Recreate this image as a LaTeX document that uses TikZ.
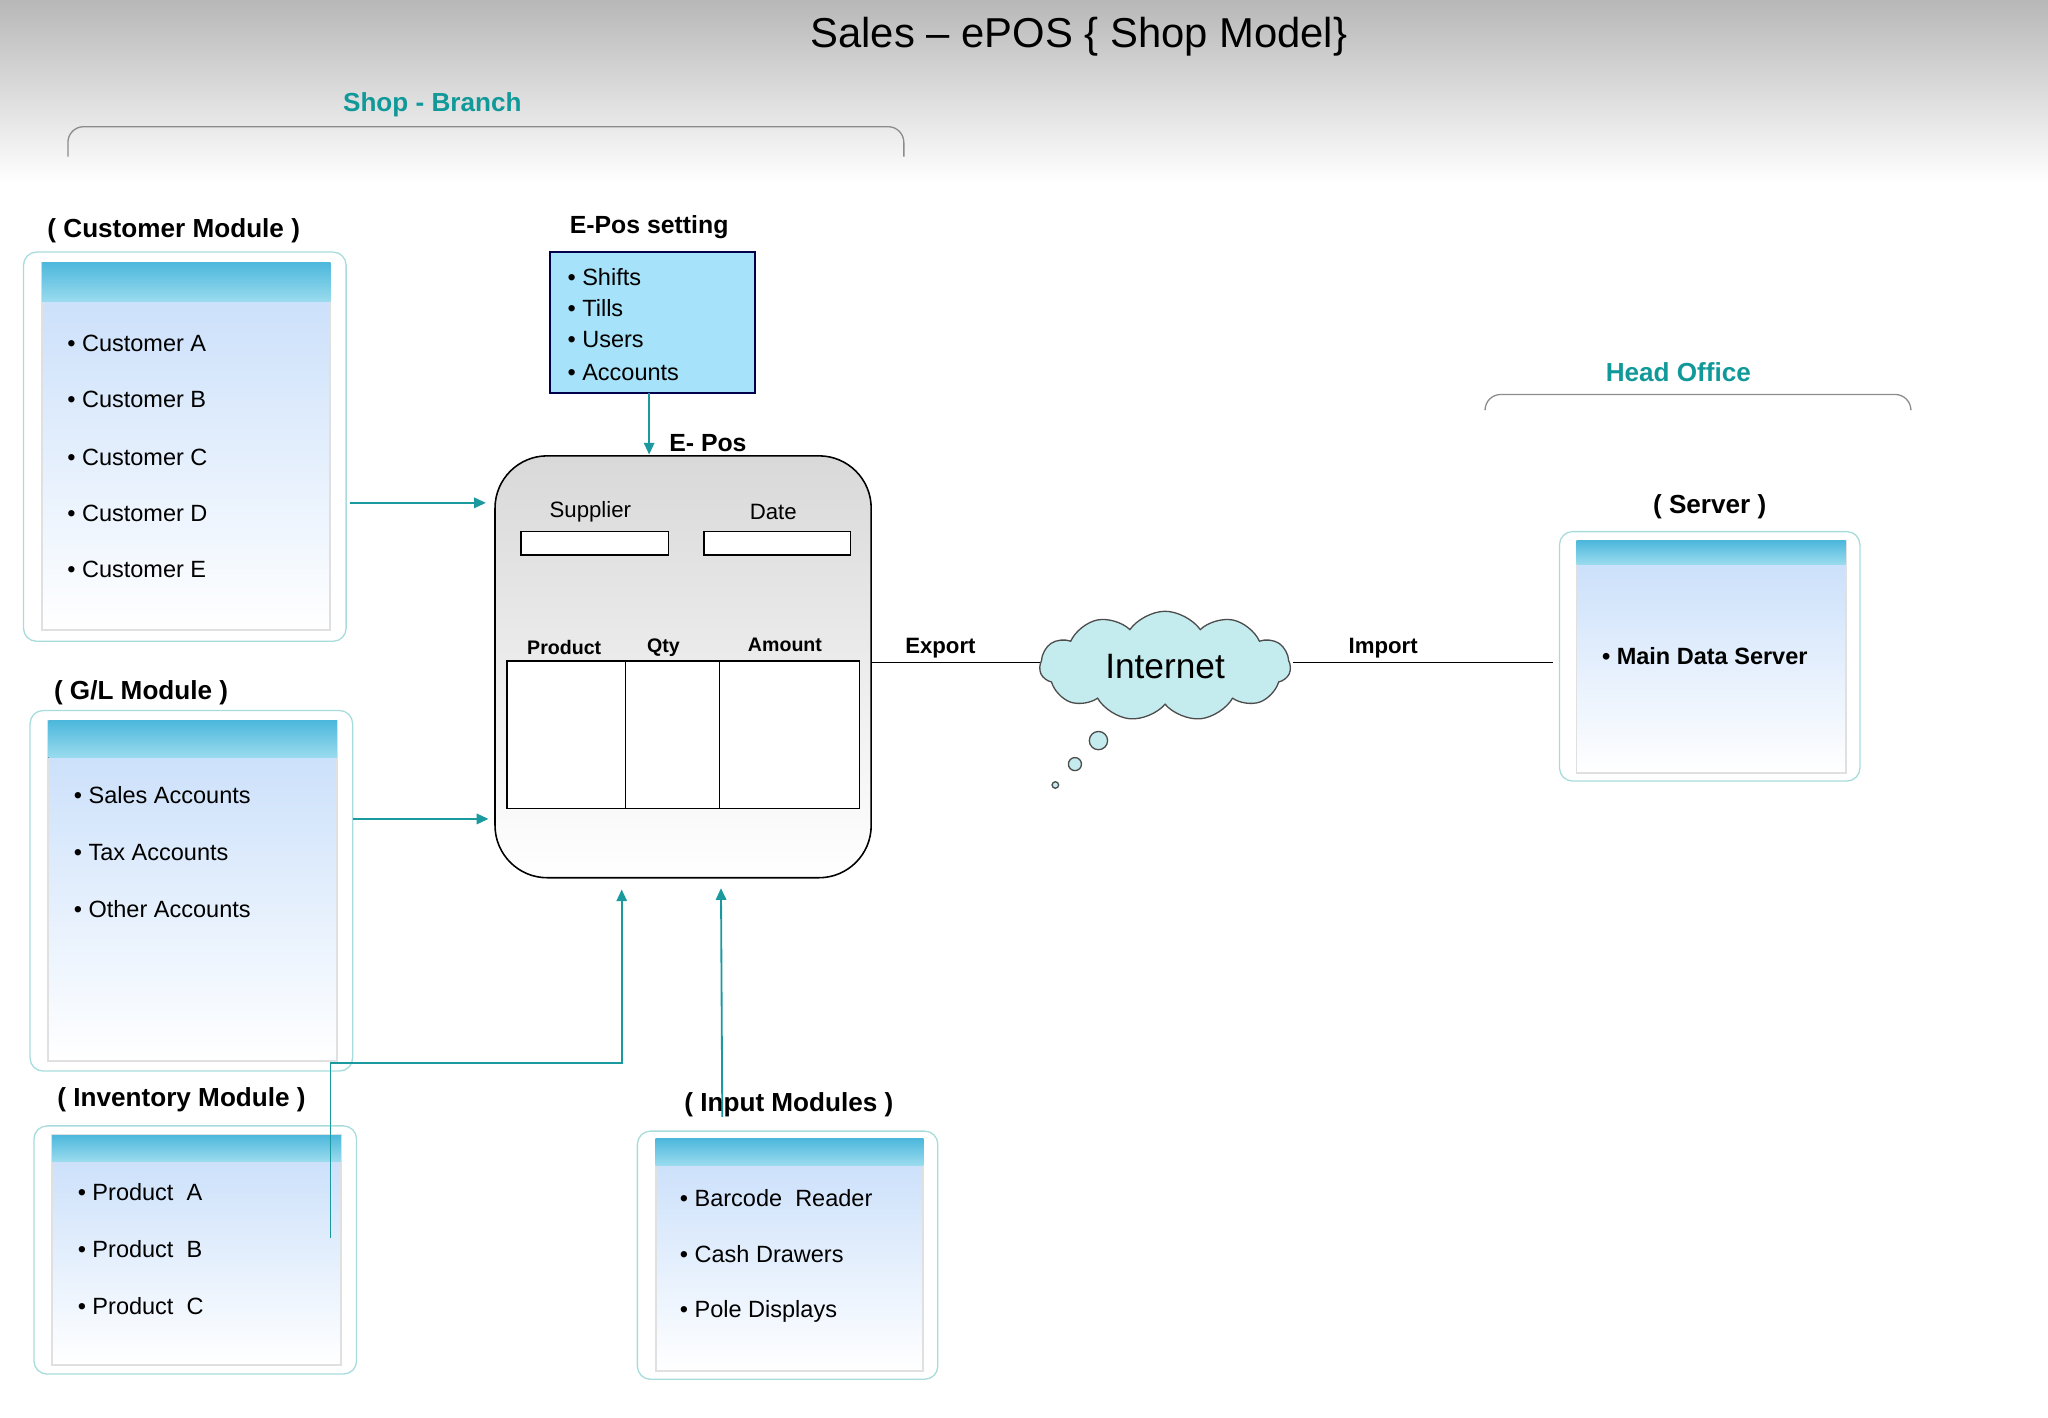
\documentclass[tikz,border=0pt]{standalone}
\usepackage{fontspec}
\setmainfont{Liberation Sans}
\usetikzlibrary{shapes.symbols,arrows.meta}
\definecolor{teal1}{HTML}{1A9A9E}
\definecolor{tealtxt}{HTML}{11999A}
\definecolor{barA}{HTML}{4DB8DC}
\definecolor{barB}{HTML}{9ADBEE}
\definecolor{bodyA}{HTML}{C6DDFA}
\definecolor{outl}{HTML}{A8DCDC}
\definecolor{cloudc}{HTML}{C4ECEF}
\newcommand\fs[1]{\fontsize{#1}{#1}\selectfont}
\tikzset{
 outer/.style={draw=outl,line width=1pt,rounded corners=10pt,fill=white},
 inner/.style={top color=bodyA,bottom color=white,draw=black!12,line width=1.5pt},
 bar/.style={top color=barA,bottom color=barB,draw=none},
 item/.style={anchor=west,font=\fs{18}},
 mtitle/.style={font=\bfseries\fs{20}},
 arr/.style={draw=teal1,line width=1.4pt,-{Triangle[length=9pt,width=8pt]}},
 brace/.style={draw=black!45,line width=1pt,rounded corners=12pt},
 lbl/.style={font=\bfseries\fs{17}}
}
\begin{document}
\begin{tikzpicture}[x=1pt,y=-1pt]
\useasboundingbox (0,0) rectangle (1568,1085);
\fill[top color=black!28,bottom color=white] (0,0) rectangle (1568,140);
\node[font=\fs{32}] (title) at (826,28) {Sales -- ePOS \{ Shop Model\}};
\node[font=\bfseries\fs{20},text=tealtxt] (sb) at (331,80) {Shop - Branch};
\draw[brace] (52,120) -- (52,97) -- (692,97) -- (692,120);
\node[font=\bfseries\fs{20},text=tealtxt] (ho) at (1285,285) {Head Office};
\draw[brace] (1137,313) -- (1137,302) -- (1463,302) -- (1463,313);
% Customer module
\node[mtitle] (ct) at (133,177) {( Customer Module )};
\draw[outer] (18,193) rectangle (265,491);
\draw[inner] (32,201) rectangle (253,482);
\fill[bar] (32,201) rectangle (253,231);
\foreach \t/\y in {A/263,B/306,C/350,D/393,E/436} \node[item] at (48,\y) {• Customer \t};
\coordinate (c1) at (268,385);
% G/L
\node[mtitle] (gt) at (108,530) {( G/L Module )};
\draw[outer] (23,544) rectangle (270,820);
\draw[inner] (37,552) rectangle (258,812);
\fill[bar] (37,552) rectangle (258,580);
\node[item] at (53,609) {• Sales Accounts};
\node[item] at (53,653) {• Tax Accounts};
\node[item] at (53,696) {• Other Accounts};
\coordinate (g1) at (270,627);
% Inventory
\node[mtitle] (it) at (139,842) {( Inventory Module )};
\draw[outer] (26,862) rectangle (273,1052);
\draw[inner] (40,869) rectangle (261,1045);
\fill[bar] (40,869) rectangle (261,889);
\node[item] at (56,913) {• Product\ \ A};
\node[item] at (56,956) {• Product\ \ B};
\node[item] at (56,1000) {• Product\ \ C};
\coordinate (i1) at (253,948);
% Input
\node[mtitle] (pt) at (604,846) {( Input Modules )};
\draw[outer] (488,866) rectangle (718,1056);
\draw[inner] (502,872) rectangle (707,1050);
\fill[bar] (502,872) rectangle (707,892);
\node[item] at (517,917) {• Barcode\ \ Reader};
\node[item] at (517,960) {• Cash Drawers};
\node[item] at (517,1004) {• Pole Displays};
\coordinate (p1) at (553,855);
% Server
\node[mtitle] (st) at (1309,388) {( Server )};
\draw[outer] (1194,407) rectangle (1424,598);
\draw[inner] (1207,414) rectangle (1413,592);
\fill[bar] (1207,414) rectangle (1413,432);
\node[item,font=\bfseries\fs{18}] (mds) at (1223,502) {• Main Data Server};
\coordinate (s1) at (1189,507);
% E-Pos setting
\node[lbl,font=\bfseries\fs{19}] (est) at (497,174) {E-Pos setting};
\draw[fill=cyan!35,draw=blue!30!black,line width=1.2pt] (421,193) rectangle (578,301);
\foreach \t/\y in {Shifts/212,Tills/236,Users/260,Accounts/285} \node[item] at (431,\y) {• \t};
\coordinate (es) at (497,301);
% E-Pos
\node[lbl,font=\bfseries\fs{19}] (ep) at (542,339) {E- Pos};
\draw[rounded corners=40pt,top color=black!15,bottom color=white,line width=1.2pt] (379,349) rectangle (667,672);
\node[font=\fs{17}] at (452,392) {Supplier};
\node[font=\fs{17}] at (592,392) {Date};
\draw[line width=1pt,fill=white] (399,407) rectangle (512,425);
\draw[line width=1pt,fill=white] (539,407) rectangle (651,425);
\node[font=\bfseries\fs{15}] at (432,496) {Product};
\node[font=\bfseries\fs{15}] at (508,496) {Qty};
\node[font=\bfseries\fs{15}] at (601,494) {Amount};
\draw[line width=1.2pt,fill=white] (388,506) rectangle (658,619);
\draw[line width=1.2pt] (479,506) -- (479,619) (551,506) -- (551,619);
\coordinate (eptop) at (497,348);
\coordinate (epl1) at (372,385);
\coordinate (epl2) at (374,627);
\coordinate (epb1) at (476,681);
\coordinate (epb2) at (552,680);
\coordinate (epr) at (667,507);
% arrows
\draw[arr] (es) -- (eptop);
\draw[arr] (c1) -- (epl1);
\draw[arr] (g1) -- (epl2);
\draw[arr] (i1) -- (253,814) -- (476,814) -- (epb1);
\draw[arr] (p1) -- (epb2);
% Internet
\coordinate (nl) at (800,507);
\coordinate (nr) at (990,507);
\draw[line width=1pt] (epr) -- (nl);
\draw[line width=1pt] (nr) -- (s1);
\node[cloud,cloud puffs=11,cloud puff arc=110,aspect=2.3,draw=black!70,fill=cloudc,line width=1pt,minimum width=192pt,minimum height=84pt,font=\fs{27}] (net) at (892,510) {Internet};
\draw[black!70,fill=cloudc,line width=1pt] (841,567) circle (7) (823,585) circle (5) (808,601) circle (2.5);
\node[lbl] at (720,496) {Export};
\node[lbl] at (1059,496) {Import};
\end{tikzpicture}
\end{document}
